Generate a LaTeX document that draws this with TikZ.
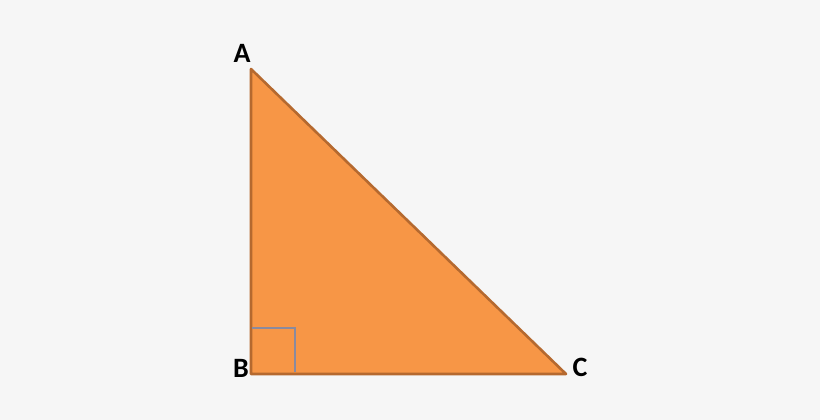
\documentclass[tikz,border=0pt]{standalone}
\usepackage{fontspec}
\setmainfont{Carlito}
\definecolor{bg}{HTML}{F6F6F6}
\definecolor{tri}{HTML}{F79646}
\definecolor{edge}{HTML}{B5692F}
\definecolor{sq}{HTML}{8A8A9E}
\tikzset{lbl/.style={font=\fontsize{28}{30}\selectfont\bfseries, inner sep=0pt}}
\begin{document}
\begin{tikzpicture}[x=1pt,y=-1pt]
\fill[bg] (0,0) rectangle (820,420);
\useasboundingbox (0,0) rectangle (820,420);
\coordinate (A) at (251,69);
\coordinate (B) at (251,374);
\coordinate (C) at (566,374);
\filldraw[fill=tri, draw=edge, line width=2.6pt, line join=round] (A) -- (B) -- (C) -- cycle;
\draw[sq, line width=1.5pt] (252,328) -- (295,328) -- (295,372);
\node[lbl] (la) at (242,53) {A};
\node[lbl] (lb) at (241,368) {B};
\node[lbl] (lc) at (580,367) {C};
\end{tikzpicture}
\end{document}
